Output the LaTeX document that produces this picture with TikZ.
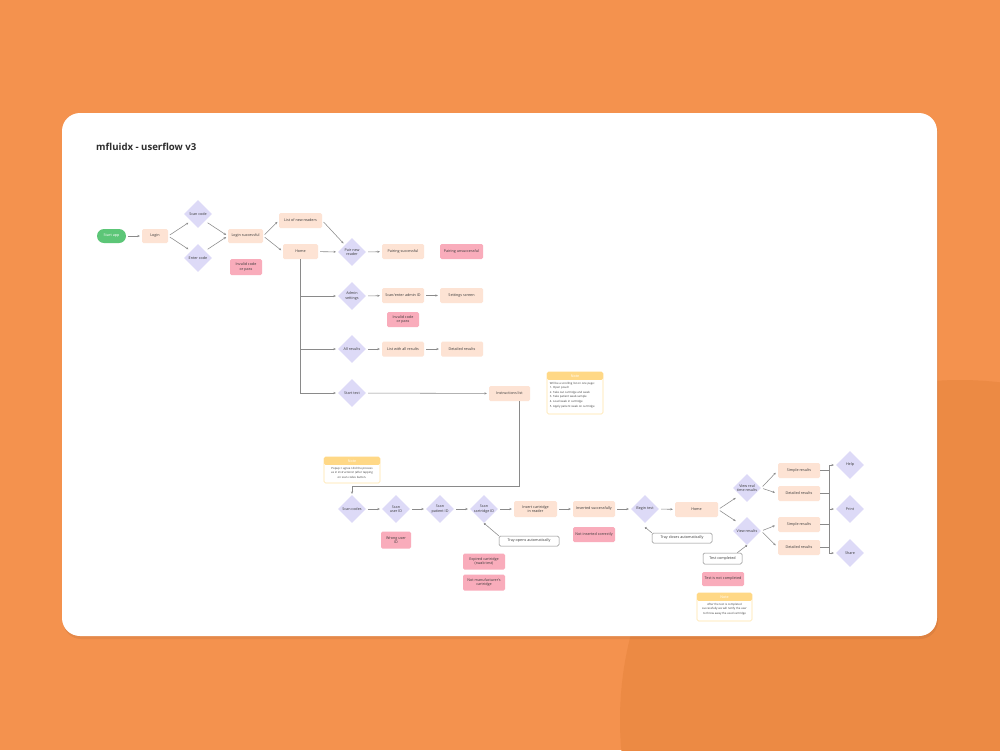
\documentclass[tikz,border=0pt]{standalone}
\usepackage{fontspec}
\setmainfont{Open Sans}
\usetikzlibrary{shapes.geometric,arrows.meta,calc}
\definecolor{bg}{HTML}{F4924E}
\definecolor{bgdark}{HTML}{EC8A44}
\definecolor{peach}{HTML}{FDE3D4}
\definecolor{pinkc}{HTML}{F9ACBB}
\definecolor{lav}{HTML}{DDDAF7}
\definecolor{greenc}{HTML}{5CC677}
\definecolor{notehead}{HTML}{FFD886}
\definecolor{noteline}{HTML}{FFE4A6}
\definecolor{linec}{HTML}{8A8A8A}
\definecolor{txt}{HTML}{3A3A3A}
\definecolor{titlec}{HTML}{2E2E2E}
\tikzset{
  fnt/.style={font=\fontsize{3.7}{4.6}\selectfont, text=txt, align=center},
  box/.style={fnt, rectangle, rounded corners=1.5pt, fill=peach, inner sep=0pt, minimum width=42pt, minimum height=15pt},
  pbox/.style={box, fill=pinkc},
  obox/.style={fnt, rectangle, rounded corners=1.5pt, fill=white, draw=linec, line width=0.5pt, inner sep=0pt, minimum width=60pt, minimum height=10pt},
  dia/.style={fnt, diamond, fill=lav, minimum width=28pt, minimum height=28pt, inner sep=-8pt},
  startbox/.style={fnt, text=white, rectangle, rounded corners=7pt, fill=greenc, inner sep=0pt, minimum width=29pt, minimum height=14pt},
  notebody/.style={rectangle, rounded corners=1.5pt, fill=white, draw=noteline, line width=0.6pt, inner sep=0pt},
  notehd/.style={rectangle, rounded corners=1.5pt, fill=notehead, inner sep=0pt, minimum height=8pt, text=white, font=\fontsize{3.6}{4.4}\selectfont},
  notetxt/.style={font=\fontsize{2.8}{4.6}\selectfont, text=txt, inner sep=0pt},
  conn/.style={draw=linec, line width=0.55pt},
  arr/.style={conn, -{Stealth[length=2.4pt,width=2.2pt]}, shorten >=2pt, shorten <=2pt},
  dot/.style={conn, {Circle[open,length=2.2pt,width=2.2pt]}-}
}
\begin{document}
\begin{tikzpicture}[x=1pt,y=-1pt]
\useasboundingbox (0,0) rectangle (1000,750);
% background
\fill[bg] (0,0) rectangle (1000,750);
\begin{scope}
\clip (0,0) rectangle (1000,750);
\fill[bgdark] (960,720) circle (340pt);
\end{scope}
\fill[black, opacity=0.06, rounded corners=18pt] (63,116) rectangle (938,639);
\fill[white, rounded corners=18pt] (62,113) rectangle (937,636);
\node[anchor=west, inner sep=0pt, text=titlec, font=\bfseries\fontsize{9.6}{11}\selectfont] (title) at (96,147) {mfluidx - userflow v3};

% ---------- top part ----------
\node[startbox] (start) at (111.5,236) {Start app};
\node[box, minimum width=26pt, minimum height=14pt] (login) at (155,236) {Login};
\node[dia] (scan) at (198,214) {Scan code};
\node[dia] (enter) at (198,258) {Enter code};
\node[box, minimum width=35pt, minimum height=14pt] (lok) at (245.5,236) {Login successful};
\node[pbox, minimum width=32pt, minimum height=16pt] (inv1) at (246,267) {Invalid code\\or pass};
\node[box, minimum width=43pt] (list) at (300.5,220.5) {List of new readers};
\node[box, minimum width=35pt] (home) at (300.5,251.5) {Home};
\node[dia] (pair) at (352,252) {Pair new\\reader};
\node[box] (psucc) at (403,251.5) {Pairing successful};
\node[pbox, minimum width=43pt] (punsucc) at (461.5,251.5) {Pairing unsuccessful};
\node[dia] (admin) at (352,296) {Admin\\settings};
\node[box] (sadmin) at (403,295.5) {Scan/enter admin ID};
\node[box, minimum width=43pt] (settings) at (461.5,295.5) {Settings screen};
\node[pbox, minimum width=32pt] (inv2) at (403,319.5) {Invalid code\\or pass};
\node[dia] (allres) at (352,349) {All results};
\node[box] (listall) at (403,349) {List with all results};
\node[box] (detres) at (462,349) {Detailed results};
\node[dia] (startt) at (352,393) {Start test};
\node[box, minimum width=41pt] (instr) at (509.5,393.5) {Instructions list};

% note 1
\node[notebody, minimum width=56pt, minimum height=42pt] (n1) at (575,393) {};
\node[notehd, minimum width=56pt, anchor=north] (n1h) at (n1.north) {Note};
\node[notetxt, align=left, anchor=north west] (n1t) at ([xshift=3pt,yshift=-10pt]n1.north west) {Will be a scrolling list on one page:\\1. Open pouch\\2. Take out cartridge and swab\\3. Take patient swab sample\\4. Load swab in cartridge\\5. Apply patient swab on cartridge};

% note 2
\node[notebody, minimum width=56pt, minimum height=26pt] (n2) at (352,470) {};
\node[notehd, minimum width=56pt, anchor=north] (n2h) at (n2.north) {Note};
\node[notetxt, align=center, anchor=north] (n2t) at ([yshift=-10pt]n2.north) {Popup: I agree I did the process\\as in instructions! (after tapping\\on scan codes button.};

% ---------- bottom part ----------
\node[dia] (scodes) at (352,509) {Scan codes};
\node[dia] (suser) at (396,509) {Scan\\user ID};
\node[dia] (spat) at (440,509) {Scan\\patient ID};
\node[dia] (scart) at (484,509) {Scan\\cartridge ID};
\node[box, minimum width=43pt, minimum height=16pt] (insert) at (535.5,509) {Insert cartridge\\in reader};
\node[box, minimum height=16pt] (inserted) at (594,509) {Inserted successfully};
\node[dia] (begin) at (645,509) {Begin test};
\node[box, minimum width=43pt] (home2) at (696.5,509.5) {Home};
\node[pbox, minimum width=30pt, minimum height=17pt] (wrong) at (396,540) {Wrong user\\ID};
\node[obox] (tray1) at (529,541) {Tray opens automatically};
\node[pbox] (notins) at (594,534.5) {Not inserted correctly};
\node[pbox, minimum height=16pt] (exp) at (484,561.5) {Expired cartridge\\(swab test)};
\node[pbox, minimum height=16pt] (notman) at (484,582.5) {Not manufacturer's\\cartridge};
\node[obox] (tray2) at (682,538) {Tray closes automatically};
\node[dia] (vrt) at (747,488) {View real\\time results};
\node[dia] (vres) at (747,531) {View results};
\node[obox, minimum width=39pt, minimum height=11pt] (tcomp) at (722.5,558.5) {Test completed};
\node[pbox, minimum height=14pt] (tnot) at (723,579) {Test is not completed};

% note 3
\node[notebody, minimum width=55pt, minimum height=28pt] (n3) at (724.5,607) {};
\node[notehd, minimum width=55pt, anchor=north] (n3h) at (n3.north) {Note};
\node[notetxt, align=center, anchor=north] (n3t) at ([yshift=-10pt]n3.north) {After the test is completed\\successfully we will notify the user\\to throw away the used cartridge};

\node[box] (s1) at (799,470.5) {Simple results};
\node[box] (d1) at (799,493.5) {Detailed results};
\node[box] (s2) at (799,524.5) {Simple results};
\node[box] (d2) at (799,547.5) {Detailed results};
\node[dia] (help) at (850,465) {Help};
\node[dia] (print) at (850,509) {Print};
\node[dia] (share) at (850,553) {Share};

% ---------- connectors ----------
\draw[arr] (start) -- (login);
\draw[arr, shorten >=3pt] (login.east) -- (scan.south west);
\draw[arr, shorten >=3pt] (login.east) -- (enter.north west);
\draw[arr, shorten <=3pt] (scan.south east) -- (lok.west);
\draw[arr, shorten <=3pt] (enter.north east) -- (lok.west);
\draw[arr] (lok.east) -- (list.west);
\draw[arr] (lok.east) -- (home.west);
\draw[arr] (list.east) -- (pair.north west);
\draw[arr] (home) -- (pair);
\draw[arr] (pair) -- (psucc);
\draw[arr, shorten <=0pt] (home.south) |- (admin.west);
\draw[arr, shorten <=0pt] (home.south) |- (allres.west);
\draw[arr, shorten <=0pt] (home.south) |- (startt.west);
\draw[arr] (admin) -- (sadmin);
\draw[arr] (sadmin) -- (settings);
\draw[arr] (allres) -- (listall);
\draw[arr] (listall) -- (detres);
\draw[arr] (startt) -- (instr);
\coordinate (c1) at (519,486.5);
\draw[arr, shorten <=0pt, shorten >=1pt] (instr.south -| c1) -- (c1) -| (scodes.north);

\draw[arr] (scodes) -- (suser);
\draw[arr] (suser) -- (spat);
\draw[arr] (spat) -- (scart);
\draw[arr] (scart) -- (insert);
\draw[arr] (insert) -- (inserted);
\draw[arr] (inserted) -- (begin);
\draw[arr] (begin) -- (home2);
\draw[dot] (scart.south) -- (tray1.north west);
\draw[dot] ([yshift=-4pt]begin.south) -- (tray2.north west);
\draw[dot] (vres.south) -- ([xshift=-5pt]tcomp.north east);
\draw[arr, shorten >=5pt] (home2.east) -- (vrt.south west);
\draw[arr, shorten >=5pt] (home2.east) -- (vres.north west);
\draw[arr, shorten >=3pt] (vrt.east) -- (s1.west);
\draw[arr, shorten >=3pt] (vrt.east) -- (d1.west);
\draw[arr, shorten >=3pt] (vres.east) -- (s2.west);
\draw[arr, shorten >=3pt] (vres.east) -- (d2.west);
\coordinate (tr1) at (829,465);
\coordinate (tr2) at (829,553);
\draw[conn] (tr1) -- (tr2);
\draw[conn] (s1.east) -- (s1.east -| tr1);
\draw[conn] (d1.east) -- (d1.east -| tr1);
\draw[conn] (s2.east) -- (s2.east -| tr1);
\draw[conn] (d2.east) -- (d2.east -| tr1);
\draw[arr, shorten <=0pt] (tr1) -- (help.west);
\draw[arr, shorten <=0pt] (print.west -| tr1) -- (print.west);
\draw[arr, shorten <=0pt] (tr2) -- (share.west);
\end{tikzpicture}
\end{document}
